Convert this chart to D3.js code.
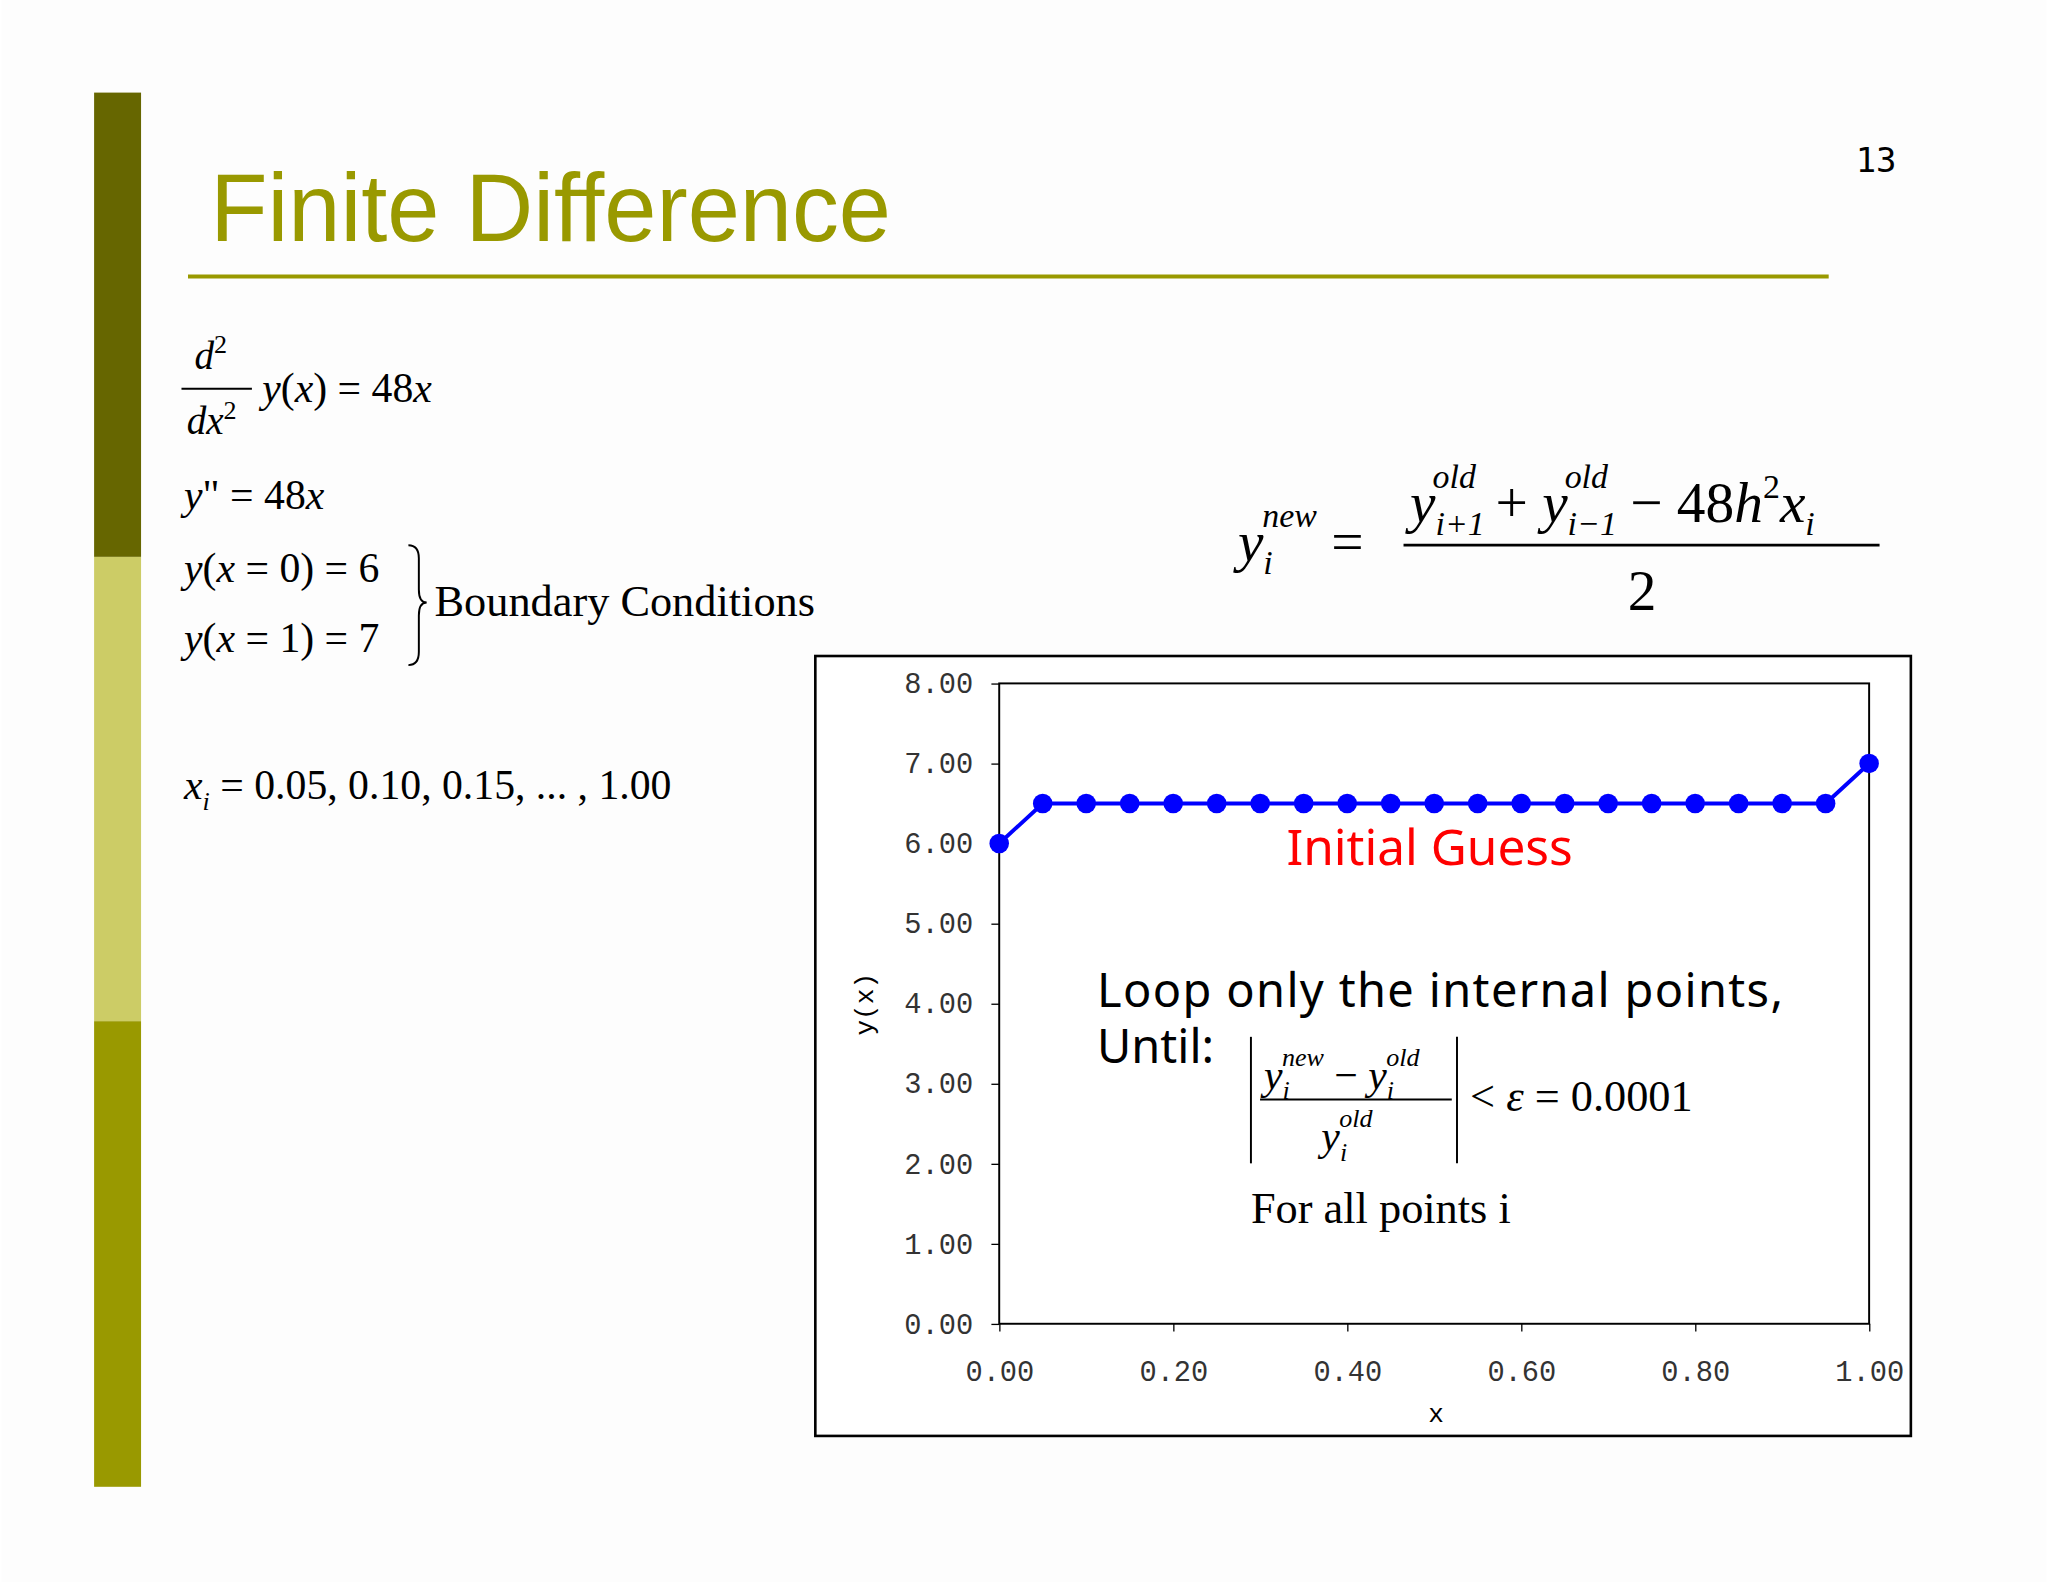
<!DOCTYPE html>
<html><head><meta charset="utf-8">
<script src="https://cdn.jsdelivr.net/npm/d3@7"></script>
<style>body{margin:0;background:#fff}svg{display:block}</style>
</head><body>
<svg id="s" width="2048" height="1582" viewBox="0 0 1568 1213"></svg>
<script>
const xValues = [0,0.05,0.10,0.15,0.20,0.25,0.30,0.35,0.40,0.45,0.50,0.55,0.60,0.65,0.70,0.75,0.80,0.85,0.90,0.95,1.00];
const yValues = [6,6.5,6.5,6.5,6.5,6.5,6.5,6.5,6.5,6.5,6.5,6.5,6.5,6.5,6.5,6.5,6.5,6.5,6.5,6.5,7];
const xTicks = [0,0.2,0.4,0.6,0.8,1.0];
const yTicks = [0,1,2,3,4,5,6,7,8];

const svg = d3.select("#s");
svg.append("rect").attr("width",1568).attr("height",1213).attr("fill","#fdfdfd");
[[71,427,"#666600"],[427,783,"#cccc66"],[783,1140,"#999900"]].forEach(([a,b,c])=>
  svg.append("rect").attr("x",71).attr("y",a).attr("width",36).attr("height",b-a).attr("fill",c));
svg.append("text").attr("x",160).attr("y",185).attr("font-family","Liberation Sans, Arial").attr("font-size",74).attr("textLength",522).attr("lengthAdjust","spacingAndGlyphs").attr("fill","#999900").text("Finite Difference");
svg.append("line").attr("x1",143).attr("x2",1401).attr("y1",212).attr("y2",212).attr("stroke","#999900").attr("stroke-width",3);
svg.append("text").attr("x",1453).attr("y",132).attr("text-anchor","end").attr("font-family","DejaVu Sans Mono, monospace").attr("font-size",26).text("13");

const T = "Liberation Serif, Times New Roman, serif";
function tx(x,y,size,parts,anchor){
  const t=svg.append("text").attr("x",x).attr("y",y).attr("font-family",T).attr("font-size",size).attr("text-anchor",anchor||"start");
  parts.forEach(p=>{const s=t.append("tspan").text(p.t);
    if(p.i) s.attr("font-style","italic");
    if(p.dy) s.attr("dy",p.dy);
    if(p.s) s.attr("font-size",p.s);
    if(p.dx) s.attr("dx",p.dx);});
  return t;
}
tx(148,283,30,[{t:"d",i:1},{t:"2",s:20,dy:-12}]);
svg.append("line").attr("x1",138).attr("x2",192).attr("y1",298).attr("y2",298).attr("stroke","#000").attr("stroke-width",1.5);
tx(142,333,30,[{t:"dx",i:1},{t:"2",s:20,dy:-12}]);
tx(200,308,32,[{t:"y",i:1},{t:"("},{t:"x",i:1},{t:") = 48"},{t:"x",i:1}]);
tx(140,390,32,[{t:"y",i:1},{t:"\" = 48"},{t:"x",i:1}]);
tx(140,446,32,[{t:"y",i:1},{t:"("},{t:"x",i:1},{t:" = 0) = 6"}]);
tx(140,500,32,[{t:"y",i:1},{t:"("},{t:"x",i:1},{t:" = 1) = 7"}]);
svg.append("path").attr("d","M312,418 Q320,418 320,428 L320,452 Q320,462 326,462 Q320,462 320,472 L320,500 Q320,510 312,510").attr("fill","none").attr("stroke","#000").attr("stroke-width",1.5);
tx(332,472,34,[{t:"Boundary Conditions"}]);
tx(140,613,32,[{t:"x",i:1},{t:"i",i:1,s:20,dy:8},{t:" = 0.05, 0.10, 0.15, ... , 1.00",dy:-8}]);
tx(948,430,44,[{t:"y",i:1},{t:"i",i:1,s:26,dy:10},{t:"new",i:1,s:26,dy:-36,dx:-8},{t:" =",dy:26}]);
tx(1080,400,44,[{t:"y",i:1},{t:"i+1",i:1,s:26,dy:10},{t:"old",i:1,s:26,dy:-36,dx:-40},{t:" + ",dy:26,dx:4},{t:"y",i:1},{t:"i−1",i:1,s:26,dy:10},{t:"old",i:1,s:26,dy:-36,dx:-40},{t:" − 48",dy:26,dx:6},{t:"h",i:1},{t:"2",s:26,dy:-18},{t:"x",i:1,dy:18},{t:"i",i:1,s:26,dy:10}]);
svg.append("line").attr("x1",1075).attr("x2",1440).attr("y1",418).attr("y2",418).attr("stroke","#000").attr("stroke-width",2);
tx(1258,468,44,[{t:"2"}],"middle");

svg.append("rect").attr("x",624).attr("y",503).attr("width",840).attr("height",598).attr("fill","#fff").attr("stroke","#000").attr("stroke-width",2);
const x=d3.scaleLinear().domain([0,1]).range([765,1432]);
const y=d3.scaleLinear().domain([0,8]).range([1015,524]);
svg.append("rect").attr("x",765).attr("y",524).attr("width",667).attr("height",491).attr("fill","none").attr("stroke","#000").attr("stroke-width",1.5);
const mono="Liberation Mono, Courier New, monospace";
const ya=svg.append("g").attr("transform","translate(765,0)").call(d3.axisLeft(y).tickValues(yTicks).tickFormat(d3.format(".2f")).tickSize(6).tickPadding(14));
const xa=svg.append("g").attr("transform","translate(0,1015)").call(d3.axisBottom(x).tickValues(xTicks).tickFormat(d3.format(".2f")).tickSize(6).tickPadding(22));
[ya,xa].forEach(a=>{a.select(".domain").remove();a.selectAll("text").attr("font-family",mono).attr("font-size",22).attr("fill","#333");a.selectAll("line").attr("stroke","#000");});
svg.append("text").attr("x",1100).attr("y",1090).attr("text-anchor","middle").attr("font-family",mono).attr("font-size",20).text("x");
svg.append("text").attr("transform","translate(668,770) rotate(-90)").attr("text-anchor","middle").attr("font-family",mono).attr("font-size",20).text("y(x)");
const pts=xValues.map((v,i)=>[v,yValues[i]]);
svg.append("path").attr("d",d3.line().x(d=>x(d[0])).y(d=>y(d[1]))(pts)).attr("fill","none").attr("stroke","#0000ff").attr("stroke-width",3);
svg.selectAll("circle.p").data(pts).join("circle").attr("cx",d=>x(d[0])).attr("cy",d=>y(d[1])).attr("r",7.5).attr("fill","#0000ff");
svg.append("text").attr("x",1095).attr("y",663).attr("text-anchor","middle").attr("font-family","Noto Sans, Verdana, sans-serif").attr("font-size",38).attr("fill","#ff0000").text("Initial Guess");
svg.append("text").attr("x",840).attr("y",772).attr("font-family","Noto Sans, Verdana, sans-serif").attr("font-size",36).attr("textLength",526).attr("lengthAdjust","spacing").text("Loop only the internal points,");
svg.append("text").attr("x",840).attr("y",815).attr("font-family","Noto Sans, Verdana, sans-serif").attr("font-size",36).text("Until:");
svg.append("line").attr("x1",958).attr("x2",958).attr("y1",795).attr("y2",892).attr("stroke","#000").attr("stroke-width",1.5);
svg.append("line").attr("x1",1116).attr("x2",1116).attr("y1",795).attr("y2",892).attr("stroke","#000").attr("stroke-width",1.5);
tx(968,835,32,[{t:"y",i:1},{t:"i",i:1,s:20,dy:8},{t:"new",i:1,s:20,dy:-26,dx:-6},{t:" − ",dy:18},{t:"y",i:1},{t:"i",i:1,s:20,dy:8},{t:"old",i:1,s:20,dy:-26,dx:-6}]);
svg.append("line").attr("x1",965).attr("x2",1112).attr("y1",843).attr("y2",843).attr("stroke","#000").attr("stroke-width",1.5);
tx(1012,882,32,[{t:"y",i:1},{t:"i",i:1,s:20,dy:8},{t:"old",i:1,s:20,dy:-26,dx:-6}]);
tx(1126,852,34,[{t:"< "},{t:"ε",i:1},{t:" = 0.0001"}]);
tx(958,938,34,[{t:"For all points i"}]);
</script>
</body></html>
